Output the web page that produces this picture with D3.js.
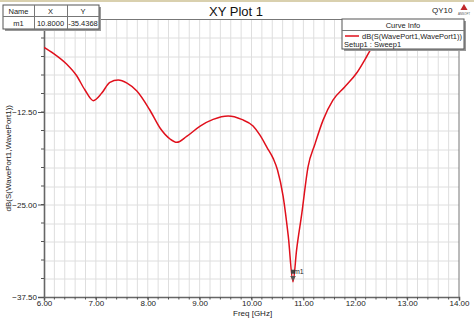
<!DOCTYPE html>
<html>
<head>
<meta charset="utf-8">
<script src="https://cdnjs.cloudflare.com/ajax/libs/d3/7.8.5/d3.min.js"></script>
<style>
  body { margin: 0; background: #fff; }
  text { font-family: "Liberation Sans", Arial, sans-serif; }
</style>
</head>
<body>
<div id="chart"></div>
<script>
// Curve values
const freq = [6.00, 6.18, 6.44, 6.62, 6.79, 6.95, 7.11, 7.27, 7.43, 7.60, 7.79, 8.04, 8.24, 8.43, 8.56,
  8.75, 9.01, 9.26, 9.55, 9.81, 10.03, 10.16, 10.30, 10.42, 10.50, 10.61, 10.71, 10.80,
  10.87, 10.97, 11.09, 11.22, 11.38, 11.57, 11.80, 12.02, 12.22, 12.38, 12.55, 12.65];
const dbS11 = [-3.76, -4.57, -6.05, -7.5, -9.53, -10.97, -9.98, -8.49, -8.18, -8.6, -9.66, -12.23, -14.7, -16.15, -16.6,
  -15.8, -14.4, -13.5, -13.04, -13.5, -14.4, -15.6, -17.3, -18.8, -20.3, -23.9, -29.35, -35.44,
  -31.1, -26.2, -19.9, -16.9, -13.6, -10.9, -9.1, -7.3, -5.0, -3.0, -1.0, 0.0];
const xTicks = [6, 7, 8, 9, 10, 11, 12, 13, 14];
const yTicks = [-12.5, -25, -37.5];
const markerHead = ["Name", "X", "Y"];
const markerRow = ["m1", "10.8000", "-35.4368"];
const markerX = 10.8;
const markerY = -35.4368;

const W = 474, H = 320;
const margin = { top: 19.5, right: 15, bottom: 23, left: 44 };
const width = W - margin.left - margin.right;
const height = H - margin.top - margin.bottom;

const svg = d3.select("#chart").append("svg")
  .attr("width", W).attr("height", H);

// top strip
svg.append("rect").attr("x", 0).attr("y", 0).attr("width", W).attr("height", 2).attr("fill", "#d9d0ae");

const g = svg.append("g").attr("transform", "translate(" + margin.left + "," + margin.top + ")");

const x = d3.scaleLinear().domain([6, 14]).range([0, width]);
const y = d3.scaleLinear().domain([-37.5, 0]).range([height, 0]);

// grid
g.append("g").selectAll("line").data(d3.range(6.2, 14, 0.2)).enter().append("line")
  .attr("x1", d => x(d)).attr("x2", d => x(d)).attr("y1", 0).attr("y2", height)
  .attr("stroke", "#dedede").attr("stroke-width", 1);
g.append("g").selectAll("line").data(d3.range(1, 15).map(i => -2.5 * i)).enter().append("line")
  .attr("x1", 0).attr("x2", width).attr("y1", d => Math.round(y(d)) + 0.5).attr("y2", d => Math.round(y(d)) + 0.5)
  .attr("stroke", "#dedede").attr("stroke-width", 1);

// frame top & right
g.append("line").attr("x1", 0).attr("x2", width).attr("y1", 0).attr("y2", 0).attr("stroke", "#777");
g.append("line").attr("x1", width).attr("x2", width).attr("y1", 0).attr("y2", height).attr("stroke", "#777");

// x axis
const xAxis = g.append("g").attr("transform", "translate(0," + height + ")")
  .call(d3.axisBottom(x).tickValues(xTicks).tickFormat(d3.format(".2f")).tickSize(3.5).tickPadding(0));
xAxis.select(".domain").attr("stroke", "#666").attr("stroke-width", 1.6);
xAxis.selectAll(".tick line").attr("stroke", "#555");
xAxis.selectAll("text").attr("font-size", "8px").attr("fill", "#222");
g.append("g").selectAll("line").data(d3.range(6.2, 14, 0.2)).enter().append("line")
  .attr("x1", d => x(d)).attr("x2", d => x(d)).attr("y1", height).attr("y2", height + 2.5)
  .attr("stroke", "#555");

// y axis
const yAxis = g.append("g")
  .call(d3.axisLeft(y).tickValues(yTicks).tickFormat(d3.format(".2f")).tickSize(6).tickPadding(1));
yAxis.select(".domain").attr("stroke", "#666").attr("stroke-width", 1.6);
yAxis.selectAll(".tick line").attr("stroke", "#555");
yAxis.selectAll("text").attr("font-size", "8px").attr("fill", "#222");
g.append("g").selectAll("line").data(d3.range(0, 15).map(i => -2.5 * i)).enter().append("line")
  .attr("x1", -3).attr("x2", 0).attr("y1", d => y(d)).attr("y2", d => y(d))
  .attr("stroke", "#555");

// axis labels
svg.append("text").attr("x", 233).attr("y", 316).attr("font-size", "8px").attr("fill", "#222")
  .text("Freq [GHz]");
svg.append("text").attr("transform", "translate(11," + (margin.top + height / 2) + ") rotate(-90)")
  .attr("text-anchor", "middle").attr("font-size", "8px").attr("fill", "#222")
  .text("dB(S(WavePort1,WavePort1))");

// curve
const pts = freq.map((f, i) => [f, dbS11[i]]);
g.append("clipPath").attr("id", "clip").append("rect").attr("width", width).attr("height", height);
g.append("path").datum(pts)
  .attr("clip-path", "url(#clip)")
  .attr("fill", "none").attr("stroke", "#e0101c").attr("stroke-width", 1.5)
  .attr("d", d3.line().curve(d3.curveMonotoneX).x(d => x(d[0])).y(d => y(d[1])));

// marker
const mx = x(markerX), my = y(markerY);
g.append("path").attr("d", d3.symbol(d3.symbolTriangle, 14)())
  .attr("transform", "translate(" + mx + "," + (my - 4) + ") rotate(180)")
  .attr("fill", "#555");
g.append("rect").attr("x", mx - 2).attr("y", my - 12).attr("width", 4).attr("height", 4).attr("fill", "#444");
g.append("text").attr("x", mx + 1).attr("y", my - 8).attr("font-size", "7px").attr("fill", "#222").text("m1");

// title
svg.append("text").attr("x", 236).attr("y", 16).attr("text-anchor", "middle")
  .attr("font-size", "13px").attr("fill", "#111").text("XY Plot 1");
svg.append("text").attr("x", 432).attr("y", 13).attr("font-size", "8px").attr("fill", "#222").text("QY10");
svg.append("path").attr("d", d3.symbol(d3.symbolTriangle, 22)())
  .attr("transform", "translate(464,8)").attr("fill", "#c0282a");
svg.append("text").attr("x", 464).attr("y", 15).attr("text-anchor", "middle")
  .attr("font-size", "3px").attr("fill", "#555").text("ANSOFT");

// marker table
const colX = [3, 34, 67, 99];
const tb = svg.append("g");
tb.append("rect").attr("x", 5).attr("y", 7).attr("width", 96).attr("height", 24).attr("fill", "#999");
tb.append("rect").attr("x", 3).attr("y", 5).attr("width", 96).attr("height", 24)
  .attr("fill", "#fff").attr("stroke", "#555");
tb.append("line").attr("x1", 3).attr("x2", 99).attr("y1", 16.5).attr("y2", 16.5).attr("stroke", "#777");
[34, 67].forEach(cx => tb.append("line").attr("x1", cx + 0.5).attr("x2", cx + 0.5).attr("y1", 5).attr("y2", 29).attr("stroke", "#777"));
markerHead.forEach((t, i) => tb.append("text").attr("x", (colX[i] + colX[i + 1]) / 2).attr("y", 14)
  .attr("text-anchor", "middle").attr("font-size", "7.5px").attr("fill", "#222").text(t));
markerRow.forEach((t, i) => tb.append("text").attr("x", (colX[i] + colX[i + 1]) / 2).attr("y", 26)
  .attr("text-anchor", "middle").attr("font-size", "7.5px").attr("fill", "#222").text(t));

// curve info legend
const lg = svg.append("g");
lg.append("rect").attr("x", 344).attr("y", 21).attr("width", 122).attr("height", 30).attr("fill", "#999");
lg.append("rect").attr("x", 342).attr("y", 19).attr("width", 122).attr("height", 30)
  .attr("fill", "#fff").attr("stroke", "#555");
lg.append("line").attr("x1", 342).attr("x2", 464).attr("y1", 30.5).attr("y2", 30.5).attr("stroke", "#777");
lg.append("text").attr("x", 403).attr("y", 27.5).attr("text-anchor", "middle")
  .attr("font-size", "7.5px").attr("fill", "#222").text("Curve Info");
lg.append("line").attr("x1", 345).attr("x2", 359).attr("y1", 36).attr("y2", 36)
  .attr("stroke", "#e0101c").attr("stroke-width", 1.5);
lg.append("text").attr("x", 462).attr("y", 38.5).attr("text-anchor", "end")
  .attr("font-size", "7.5px").attr("fill", "#222").text("dB(S(WavePort1,WavePort1))");
lg.append("text").attr("x", 344).attr("y", 46.5)
  .attr("font-size", "7.5px").attr("fill", "#222").text("Setup1 : Sweep1");
</script>
</body>
</html>
